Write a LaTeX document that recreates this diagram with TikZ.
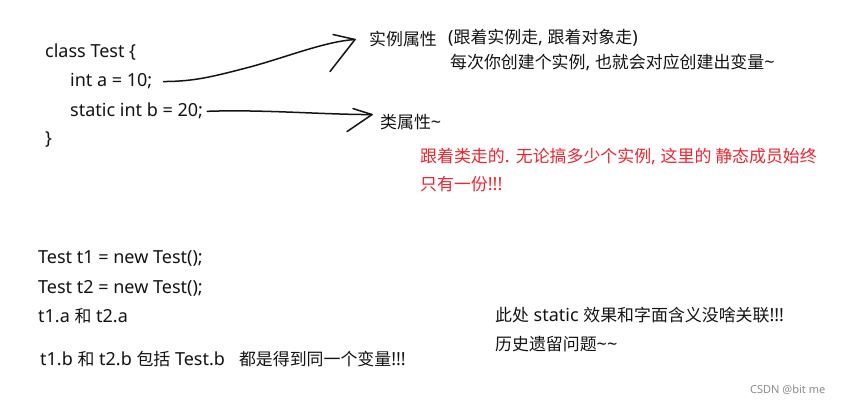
\documentclass[tikz,border=0pt]{standalone}
\usepackage{fontspec}
\setmainfont{Noto Sans}
\newfontfamily\cjk{Noto Sans CJK SC}[Scale=0.94]
\definecolor{inkred}{RGB}{236,38,48}
\definecolor{inkblack}{RGB}{20,20,20}
\begin{document}
\begin{tikzpicture}[
		x=1pt,y=-1pt,
		txt/.style={anchor=base west,inner sep=0pt,font=\fontsize{18}{21}\selectfont,text=inkblack},
		rtxt/.style={txt,text=inkred},
		pen/.style={line width=1.5pt,draw=inkblack,line cap=round,line join=round},
	]
		\useasboundingbox[fill=white] (0,0) rectangle (842,403);
		% the class
		\node[txt] (cls) at (45,58) {class Test \{};
		\node[txt] (inta) at (70,87) {int a = 10;};
		\node[txt] (staticb) at (70,117) {static int b = 20;};
		\node[txt] (rbrace) at (45,145) {\}};
		
		% notes on the right
		\node[txt] (shili) at (369,46) {\cjk 实例属性};
		\node[txt] (shilinote) at (448,44) {(\cjk 跟着实例走\rmfamily, \cjk 跟着对象走\rmfamily)};
		\node[txt] (shilidesc) at (450,69) {\cjk 每次你创建个实例\rmfamily, \cjk 也就会对应创建出变量\rmfamily\textasciitilde};
		\node[txt] (leishu) at (380,129) {\cjk 类属性\rmfamily\textasciitilde};
		\node[rtxt] (leinote) at (420,163) {\cjk 跟着类走的\rmfamily. \cjk 无论搞多少个实例\rmfamily, \cjk 这里的 静态成员始终};
		\node[rtxt] (leinotee) at (420,191) {\cjk 只有一份\rmfamily!!!};
		
		% the arrows
		\coordinate (tipa) at (shili.west -| 355,0);
		\coordinate (tipb) at ([yshift=8pt]leishu.west -| 372,0);
		\draw[pen] ([xshift=11pt]inta.east) .. controls +(32,0) and +(-35,9) .. (250,67)
			.. controls +(40,-11) and +(-30,2) .. (tipa);
		\draw[pen] ([xshift=-22pt,yshift=5pt]tipa) -- (tipa) -- ([xshift=-25pt,yshift=-32pt]tipa);
		\draw[pen] ([xshift=4pt]staticb.east) .. controls +(55,-2) and +(-50,0) .. (tipb);
		\draw[pen] ([xshift=-19pt,yshift=6pt]tipb) -- (tipb) -- ([xshift=-25pt,yshift=-17pt]tipb);
		
		% the objects
		\node[txt] (tone) at (38,263) {Test t1 = new Test();};
		\node[txt] (ttwo) at (38,293) {Test t2 = new Test();};
		\node[txt] (ta) at (38,322) {t1.a {\cjk 和} t2.a};
		\node[txt] (tb) at (40,365) {t1.b {\cjk 和} t2.b {\cjk 包括} Test.b \ \ {\cjk 都是得到同一个变量}!!!};
		\node[txt] (remark) at (495,321) {{\cjk 此处} static {\cjk 效果和字面含义没啥关联}!!!};
		\node[txt] (remarkk) at (495,350) {{\cjk 历史遗留问题}\textasciitilde\textasciitilde};
		
		\node[anchor=base west,inner sep=0pt,font=\fontsize{11}{13}\selectfont,text=black!45] (csdn) at (750,393) {CSDN @bit me};
	\end{tikzpicture}
\end{document}
